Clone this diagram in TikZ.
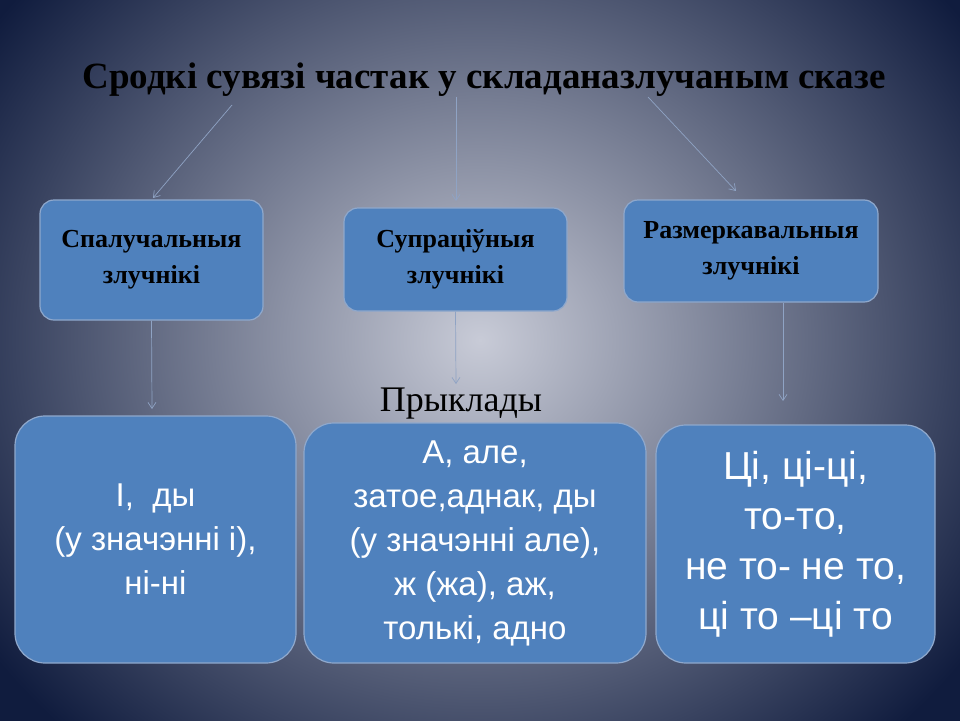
\documentclass[tikz,border=0pt]{standalone}
\usepackage{fontspec}
\setmainfont{Liberation Serif}
\newfontfamily\lsans{Liberation Sans}
\usetikzlibrary{arrows.meta}
\definecolor{boxfill}{HTML}{4F81BD}
\definecolor{boxline}{HTML}{8FA8CC}
\definecolor{arr}{HTML}{8FA3C4}
\begin{document}
\begin{tikzpicture}[x=1pt,y=-1pt,
  top/.style={draw=boxline,line width=1.2pt,fill=boxfill,rounded corners=14pt,align=center,font=\bfseries\fontsize{26}{36}\selectfont,text=black},
  low/.style={draw=boxline,line width=1.2pt,fill=boxfill,rounded corners=30pt,align=center,font=\lsans\fontsize{33}{44}\selectfont,text=white},
  con/.style={draw=arr,line width=0.7pt,-{Straight Barb[length=6pt,width=8pt]}}]
\useasboundingbox (0,0) rectangle (960,720);
\shade[inner color={rgb,255:red,200;green,203;blue,215},outer color={rgb,255:red,16;green,28;blue,62}] (-120,-200) rectangle (1080,880);
\node (title) at (484,80) {\bfseries\fontsize{37}{42}\selectfont Сродкі сувязі частак у складаназлучаным сказе};
\node[top,minimum width=223pt,minimum height=120pt] (b1) at (151.5,260) {Спалучальныя\\злучнікі};
\node[top,minimum width=223pt,minimum height=103pt] (b2) at (455.5,259.5) {Супраціўныя\\злучнікі};
\node[top,minimum width=254pt,minimum height=102pt] (b3) at (751,251) {Размеркавальныя\\злучнікі};
\node[low,minimum width=281pt,minimum height=247pt] (c1) at (155.5,539.5) {І,\ \ ды\\(у значэнні і),\\ні-ні};
\node[low,minimum width=342pt,minimum height=240pt] (c2) at (475,543) {А, але,\\затое,аднак, ды\\(у значэнні але),\\ж (жа), аж,\\ толькі, адно};
\node[low,minimum width=279pt,minimum height=238pt,font=\lsans\fontsize{39}{50}\selectfont] (c3) at (795.5,544) {Ці, ці-ці,\\то-то,\\не то- не то,\\ці то –ці то};
\node (ex) at (461,404) {\fontsize{36}{40}\selectfont Прыклады};
\coordinate (t1) at (232,105); \coordinate (e1) at (153,198);
\coordinate (t2) at (456,97); \coordinate (e2) at (456,201);
\coordinate (t3) at (648,97); \coordinate (e3) at (736,191);
\coordinate (f1) at (152,409); \coordinate (f2) at (456,384); \coordinate (f3) at (783,401);
\draw[con] (t1) -- (e1);
\draw[con] (t2) -- (e2);
\draw[con] (t3) -- (e3);
\draw[con] (b1.south) -- (f1);
\draw[con] (b2.south) -- (f2);
\draw[con] ([xshift=32pt]b3.south) -- (f3);
\end{tikzpicture}
\end{document}
